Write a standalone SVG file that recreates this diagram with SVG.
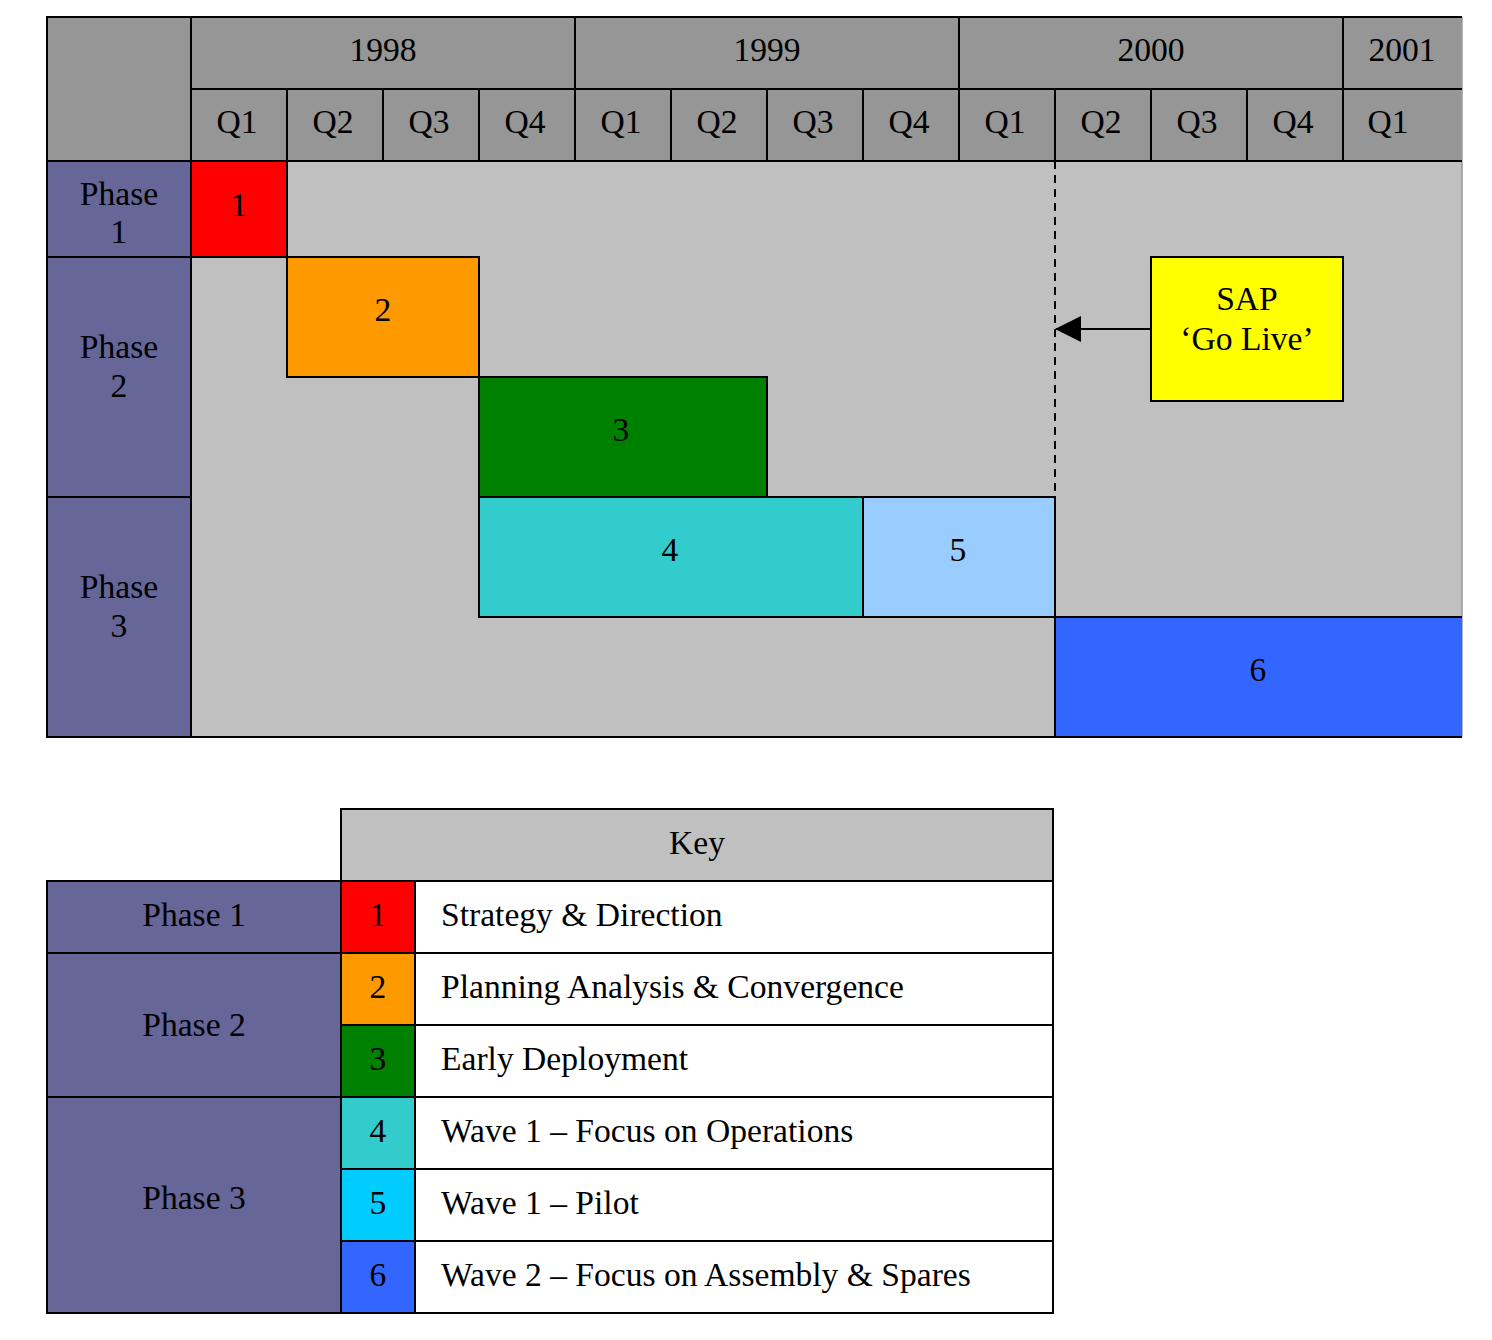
<svg xmlns="http://www.w3.org/2000/svg" width="1492" height="1340" viewBox="0 0 1492 1340">
<defs>
<style>
text{font-family:"Liberation Serif","Times New Roman","DejaVu Serif",serif;font-size:33.6px;fill:#000;text-anchor:middle}
.l{text-anchor:start}
.hd{fill:#969696}
.bd{fill:#c0c0c0}
.ph{fill:#666699;stroke:#000;stroke-width:2}
.bar{stroke:#000;stroke-width:2}
.ln{stroke:#000;stroke-width:2;fill:none}
.kc{fill:#fff;stroke:#000;stroke-width:2}
</style>
<marker id="ah" markerWidth="26" markerHeight="26" refX="25" refY="13" orient="auto" markerUnits="userSpaceOnUse">
<path d="M0,0 L26,13 L0,26 z" fill="#000"/>
</marker>
</defs>

<g id="chart-bg">
<rect x="47" y="17" width="1415" height="144" class="hd"/>
<rect x="191" y="161" width="1271" height="576" class="bd"/>
<line x1="1462" y1="17" x2="1462" y2="737" stroke="#999" stroke-width="1.5"/>
</g>

<g id="header">
<path class="ln" d="M1462,17 H47 V161 H1462 M191,17 V161 M191,89 H1462 M575,17 V161 M959,17 V161 M1343,17 V161 M287,89 V161 M383,89 V161 M479,89 V161 M671,89 V161 M767,89 V161 M863,89 V161 M1055,89 V161 M1151,89 V161 M1247,89 V161"/>
<text x="383" y="61">1998</text>
<text x="767" y="61">1999</text>
<text x="1151" y="61">2000</text>
<text x="1402" y="61">2001</text>
<text x="237" y="133">Q1</text>
<text x="333" y="133">Q2</text>
<text x="429" y="133">Q3</text>
<text x="525" y="133">Q4</text>
<text x="621" y="133">Q1</text>
<text x="717" y="133">Q2</text>
<text x="813" y="133">Q3</text>
<text x="909" y="133">Q4</text>
<text x="1005" y="133">Q1</text>
<text x="1101" y="133">Q2</text>
<text x="1197" y="133">Q3</text>
<text x="1293" y="133">Q4</text>
<text x="1388" y="133">Q1</text>
</g>

<g id="phase1-row"><rect x="47" y="161" width="144" height="96" class="ph"/><text x="119" y="205">Phase</text><text x="119" y="243">1</text></g>
<g id="phase2-row"><rect x="47" y="257" width="144" height="240" class="ph"/><text x="119" y="358">Phase</text><text x="119" y="397">2</text></g>
<g id="phase3-row"><rect x="47" y="497" width="144" height="240" class="ph"/><text x="119" y="598">Phase</text><text x="119" y="637">3</text></g>

<g id="bar1"><rect x="191" y="161" width="96" height="96" fill="#ff0000" class="bar"/><text x="239" y="216">1</text></g>
<g id="bar2"><rect x="287" y="257" width="192" height="120" fill="#ff9900" class="bar"/><text x="383" y="321">2</text></g>
<g id="bar3"><rect x="479" y="377" width="288" height="120" fill="#008000" class="bar"/><text x="621" y="441">3</text></g>
<g id="bar4"><rect x="479" y="497" width="384" height="120" fill="#33cccc" class="bar"/><text x="670" y="561">4</text></g>
<g id="bar5"><rect x="863" y="497" width="192" height="120" fill="#99ccff" class="bar"/><text x="958" y="561">5</text></g>
<g id="bar6"><rect x="1055" y="617" width="407" height="120" fill="#3366ff"/><path class="ln" d="M1462,617 H1055 V737 H1462"/><text x="1258" y="681">6</text></g>
<g id="chart-bottom"><line x1="191" y1="737" x2="1462" y2="737" class="ln"/></g>

<g id="sap-golive"><rect x="1151" y="257" width="192" height="144" fill="#ffff00" class="bar"/><text x="1247" y="310">SAP</text><text x="1247" y="350">‘Go Live’</text></g>

<g id="connectors">
<line x1="1055" y1="161" x2="1055" y2="497" stroke="#000" stroke-width="2" stroke-dasharray="8,6"/>
<line x1="1151" y1="329" x2="1056" y2="329" stroke="#000" stroke-width="2" marker-end="url(#ah)"/>
</g>

<g id="key-header"><rect x="341" y="809" width="712" height="72" fill="#c0c0c0" stroke="#000" stroke-width="2"/><text x="697" y="854">Key</text></g>

<g id="key-phase1"><rect x="47" y="881" width="294" height="72" class="ph"/><text x="194" y="926">Phase 1</text></g>
<g id="key-phase2"><rect x="47" y="953" width="294" height="144" class="ph"/><text x="194" y="1036">Phase 2</text></g>
<g id="key-phase3"><rect x="47" y="1097" width="294" height="216" class="ph"/><text x="194" y="1209">Phase 3</text></g>

<g id="key-1"><rect x="341" y="881" width="74" height="72" fill="#ff0000" class="bar"/><rect x="415" y="881" width="638" height="72" class="kc"/><text x="378" y="926">1</text><text x="441" y="926" class="l">Strategy &amp; Direction</text></g>
<g id="key-2"><rect x="341" y="953" width="74" height="72" fill="#ff9900" class="bar"/><rect x="415" y="953" width="638" height="72" class="kc"/><text x="378" y="998">2</text><text x="441" y="998" class="l">Planning Analysis &amp; Convergence</text></g>
<g id="key-3"><rect x="341" y="1025" width="74" height="72" fill="#008000" class="bar"/><rect x="415" y="1025" width="638" height="72" class="kc"/><text x="378" y="1070">3</text><text x="441" y="1070" class="l">Early Deployment</text></g>
<g id="key-4"><rect x="341" y="1097" width="74" height="72" fill="#33cccc" class="bar"/><rect x="415" y="1097" width="638" height="72" class="kc"/><text x="378" y="1142">4</text><text x="441" y="1142" class="l">Wave 1 – Focus on Operations</text></g>
<g id="key-5"><rect x="341" y="1169" width="74" height="72" fill="#00ccff" class="bar"/><rect x="415" y="1169" width="638" height="72" class="kc"/><text x="378" y="1214">5</text><text x="441" y="1214" class="l">Wave 1 – Pilot</text></g>
<g id="key-6"><rect x="341" y="1241" width="74" height="72" fill="#3366ff" class="bar"/><rect x="415" y="1241" width="638" height="72" class="kc"/><text x="378" y="1286">6</text><text x="441" y="1286" class="l">Wave 2 – Focus on Assembly &amp; Spares</text></g>
</svg>
